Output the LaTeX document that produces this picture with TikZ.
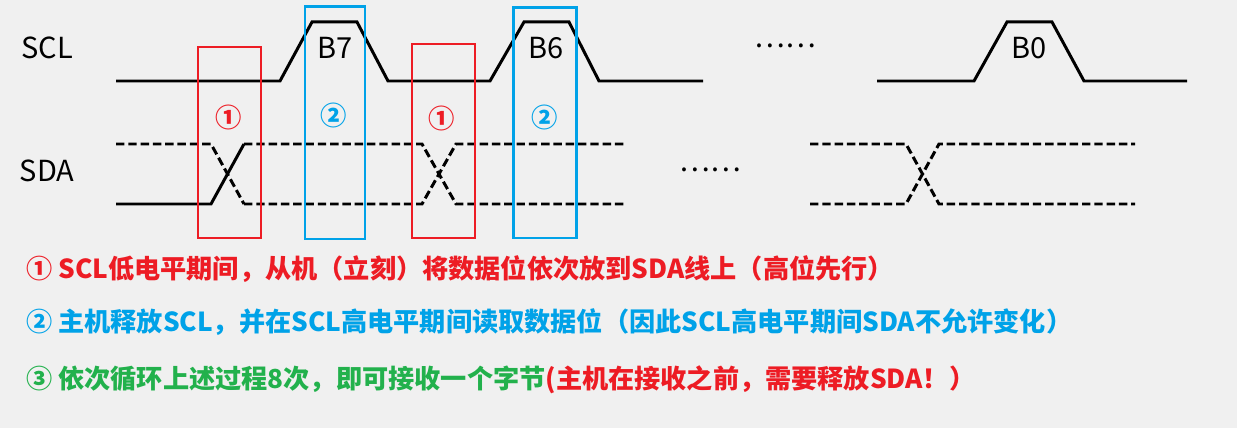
\documentclass[tikz,border=0pt]{standalone}
\usepackage{fontspec}
\setmainfont{Noto Sans CJK SC}
\definecolor{sclred}{RGB}{237,28,36}
\definecolor{sdablue}{RGB}{0,162,232}
\definecolor{stepgreen}{RGB}{34,177,76}
\definecolor{bggray}{RGB}{240,240,240}

\begin{document}
\begin{tikzpicture}[x=0.02cm,y=-0.02cm,
  wave/.style={line width=1.7pt},
  wavedash/.style={line width=1.7pt,dash pattern=on 4.8pt off 2.2pt},
  redbox/.style={draw=sclred,line width=1.7pt},
  bluebox/.style={draw=sdablue,line width=1.7pt},
  sig/.style={font=\fontsize{16.5}{16.5}\selectfont},
  num/.style={font=\bfseries\fontsize{15}{15}\selectfont},
  note/.style={anchor=west,font=\bfseries\fontsize{14.9}{14.9}\selectfont}]

% Fundo
\fill[bggray] (0,0) rectangle (1237,428);

% Rotulos dos sinais
\node[sig] (scl) at (47,48) {SCL};
\node[sig] (sda) at (47,171) {SDA};

% Forma de onda SCL
\draw[wave] (116,81) -- (280,81) -- (312,22) -- (357,22) -- (388,81) -- (490,81)
  -- (524,22) -- (569,22) -- (599,81) -- (703,81);
\draw[wave] (877,81) -- (974,81) -- (1007,22) -- (1052,22) -- (1084,81) -- (1187,81);
\node[sig] (b7) at (335,48) {B7};
\node[sig] (b6) at (546,48) {B6};
\node[sig] (b0) at (1029,48) {B0};
\node[sig] (sclgap) at (785,46) {……};

% Forma de onda SDA
\draw[wave] (116,204) -- (211,204) -- (244,144);
\draw[wavedash] (116,144) -- (211,144) -- (244,204);
\draw[wavedash] (244,144) -- (422,144) -- (456,204) -- (626,204);
\draw[wavedash] (244,204) -- (422,204) -- (456,144) -- (626,144);
\draw[wavedash] (810,144) -- (906,144) -- (939,204) -- (1135,204);
\draw[wavedash] (810,204) -- (906,204) -- (939,144) -- (1135,144);
\node[sig] (sdagap) at (710,170) {……};

% Janelas: SCL baixo (vermelho) e SCL alto (azul)
\draw[redbox] (198,47) rectangle (261,238);
\draw[bluebox] (305,7) rectangle (365,239);
\draw[redbox] (412,44) rectangle (475,238);
\draw[bluebox] (513,8) rectangle (576,238);
\node[num,text=sclred] (low1) at (229,117) {①};
\node[num,text=sdablue] (high1) at (334,115) {②};
\node[num,text=sclred] (low2) at (442,118) {①};
\node[num,text=sdablue] (high2) at (545,117) {②};

% Texto explicativo
\node[note,text=sclred] (step1) at (20,269) {① SCL低电平期间，从机（立刻）将数据位依次放到SDA线上（高位先行）};
\node[note,text=sdablue] (step2) at (20,322) {② 主机释放SCL，并在SCL高电平期间读取数据位（因此SCL高电平期间SDA不允许变化）};
\node[note,text=stepgreen] (step3) at (20,380) {③ 依次循环上述过程8次，即可接收一个字节\textcolor{sclred}{(主机在接收之前，需要释放SDA！）}};

\end{tikzpicture}
\end{document}
